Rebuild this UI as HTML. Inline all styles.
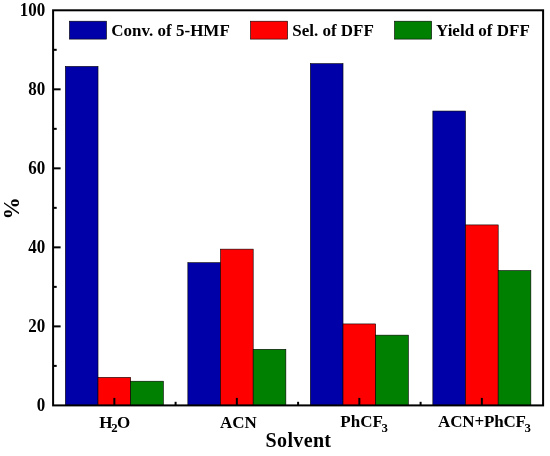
<!DOCTYPE html><html><head><meta charset="utf-8"><title>Solvent chart</title>
<style>html,body{margin:0;padding:0;background:#fff}svg{display:block}text{font-family:"Liberation Serif","DejaVu Serif",serif;font-weight:bold;fill:#000}</style></head><body>
<svg width="550" height="456" viewBox="0 0 550 456">
<rect width="550" height="456" fill="#fff"/>
<rect x="65.35" y="66.40" width="32.67" height="339.00" fill="#0000a8" stroke="#000" stroke-width="0.6"/>
<rect x="98.02" y="377.35" width="32.67" height="28.05" fill="#ff0000" stroke="#000" stroke-width="0.6"/>
<rect x="130.68" y="381.22" width="32.67" height="24.18" fill="#008000" stroke="#000" stroke-width="0.6"/>
<rect x="187.85" y="262.69" width="32.67" height="142.71" fill="#0000a8" stroke="#000" stroke-width="0.6"/>
<rect x="220.52" y="249.14" width="32.67" height="156.26" fill="#ff0000" stroke="#000" stroke-width="0.6"/>
<rect x="253.18" y="349.30" width="32.67" height="56.10" fill="#008000" stroke="#000" stroke-width="0.6"/>
<rect x="310.35" y="63.64" width="32.67" height="341.76" fill="#0000a8" stroke="#000" stroke-width="0.6"/>
<rect x="343.02" y="323.93" width="32.67" height="81.47" fill="#ff0000" stroke="#000" stroke-width="0.6"/>
<rect x="375.68" y="335.15" width="32.67" height="70.25" fill="#008000" stroke="#000" stroke-width="0.6"/>
<rect x="432.85" y="111.05" width="32.67" height="294.35" fill="#0000a8" stroke="#000" stroke-width="0.6"/>
<rect x="465.52" y="224.92" width="32.67" height="180.48" fill="#ff0000" stroke="#000" stroke-width="0.6"/>
<rect x="498.18" y="270.59" width="32.67" height="134.81" fill="#008000" stroke="#000" stroke-width="0.6"/>
<rect x="53.1" y="10.3" width="490.00" height="395.10" fill="none" stroke="#000" stroke-width="2"/>
<text transform="translate(45.2,410.85) scale(1,1.07)" font-size="17" text-anchor="end">0</text>
<line x1="53.1" x2="56.7" y1="365.89" y2="365.89" stroke="#000" stroke-width="2"/>
<line x1="53.1" x2="60.6" y1="326.38" y2="326.38" stroke="#000" stroke-width="2"/>
<text transform="translate(45.2,331.83) scale(1,1.07)" font-size="17" text-anchor="end">20</text>
<line x1="53.1" x2="56.7" y1="286.87" y2="286.87" stroke="#000" stroke-width="2"/>
<line x1="53.1" x2="60.6" y1="247.36" y2="247.36" stroke="#000" stroke-width="2"/>
<text transform="translate(45.2,252.81) scale(1,1.07)" font-size="17" text-anchor="end">40</text>
<line x1="53.1" x2="56.7" y1="207.85" y2="207.85" stroke="#000" stroke-width="2"/>
<line x1="53.1" x2="60.6" y1="168.34" y2="168.34" stroke="#000" stroke-width="2"/>
<text transform="translate(45.2,173.79) scale(1,1.07)" font-size="17" text-anchor="end">60</text>
<line x1="53.1" x2="56.7" y1="128.83" y2="128.83" stroke="#000" stroke-width="2"/>
<line x1="53.1" x2="60.6" y1="89.32" y2="89.32" stroke="#000" stroke-width="2"/>
<text transform="translate(45.2,94.77) scale(1,1.07)" font-size="17" text-anchor="end">80</text>
<line x1="53.1" x2="56.7" y1="49.81" y2="49.81" stroke="#000" stroke-width="2"/>
<text transform="translate(45.2,15.75) scale(1,1.07)" font-size="17" text-anchor="end">100</text>
<line x1="114.35" x2="114.35" y1="405.4" y2="397.9" stroke="#000" stroke-width="2"/>
<line x1="175.60" x2="175.60" y1="405.4" y2="401.79999999999995" stroke="#000" stroke-width="2"/>
<line x1="236.85" x2="236.85" y1="405.4" y2="397.9" stroke="#000" stroke-width="2"/>
<line x1="298.10" x2="298.10" y1="405.4" y2="401.79999999999995" stroke="#000" stroke-width="2"/>
<line x1="359.35" x2="359.35" y1="405.4" y2="397.9" stroke="#000" stroke-width="2"/>
<line x1="420.60" x2="420.60" y1="405.4" y2="401.79999999999995" stroke="#000" stroke-width="2"/>
<line x1="481.85" x2="481.85" y1="405.4" y2="397.9" stroke="#000" stroke-width="2"/>
<text x="99.2" y="427.7" font-size="17">H<tspan font-size="12.8" dx="-1.2" dy="4.6">2</tspan><tspan dx="-0.6" dy="-4.6">O</tspan></text>
<text x="220.0" y="427.5" font-size="17">ACN</text>
<text x="340.3" y="426.7" font-size="17">PhCF<tspan font-size="12.8" dx="-1.3" dy="4.8">3</tspan></text>
<text x="438.0" y="427.4" font-size="17" letter-spacing="-0.15">ACN+PhCF<tspan font-size="12.8" dx="-1.3" dy="4.8">3</tspan></text>
<text x="298.5" y="446.9" font-size="20" letter-spacing="0.35" text-anchor="middle">Solvent</text>
<text transform="translate(18.8,208.3) rotate(-90) scale(1,1.08)" font-size="22.3" text-anchor="middle">%</text>
<rect x="69.4" y="21.2" width="37.1" height="17.9" fill="#0000a8" stroke="#000" stroke-width="0.6"/>
<text transform="translate(111.3,35.9) scale(1,1.03)" font-size="17">Conv. of 5-HMF</text>
<rect x="250.5" y="21.2" width="37.1" height="17.9" fill="#ff0000" stroke="#000" stroke-width="0.6"/>
<text transform="translate(292.2,35.9) scale(1,1.03)" font-size="17">Sel. of DFF</text>
<rect x="394.5" y="21.2" width="37.1" height="17.9" fill="#008000" stroke="#000" stroke-width="0.6"/>
<text transform="translate(436.0,35.9) scale(1,1.03)" font-size="17">Yield of DFF</text>
</svg></body></html>
